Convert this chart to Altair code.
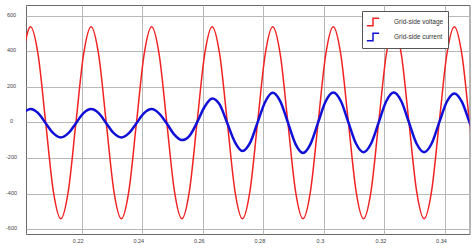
import altair as alt
import pandas as pd

# time samples (s), every 1/8 period of the 50 Hz grid
time_s = [0.2006, 0.2031, 0.2056, 0.2081, 0.2106, 0.2131, 0.2156, 0.2181,
          0.2206, 0.2231, 0.2256, 0.2281, 0.2306, 0.2331, 0.2356, 0.2381,
          0.2406, 0.2431, 0.2456, 0.2481, 0.2506, 0.2531, 0.2556, 0.2581,
          0.2606, 0.2631, 0.2656, 0.2681, 0.2706, 0.2731, 0.2756, 0.2781,
          0.2806, 0.2831, 0.2856, 0.2881, 0.2906, 0.2931, 0.2956, 0.2981,
          0.3006, 0.3031, 0.3056, 0.3081, 0.3106, 0.3131, 0.3156, 0.3181,
          0.3206, 0.3231, 0.3256, 0.3281, 0.3306, 0.3331, 0.3356, 0.3381,
          0.3406, 0.3431, 0.3456, 0.3481, 0.3506]

grid_voltage = [380, 537, 380, 0, -382, -540, -382, 0,
                380, 537, 380, 0, -382, -540, -382, 0,
                380, 537, 380, 0, -382, -540, -382, 0,
                380, 537, 380, 0, -382, -540, -382, 0,
                380, 537, 380, 0, -382, -540, -382, 0,
                380, 537, 380, 0, -382, -540, -382, 0,
                380, 537, 380, 0, -382, -540, -382, 0,
                380, 537, 380, 0, -382]

grid_current = [53, 75, 52, -4, -60, -84, -60, -4,
                52, 75, 52, -4, -60, -84, -60, -4,
                52, 75, 50, -6, -68, -99, -75, 0,
                88, 135, 100, -5, -110, -160, -115, 0,
                115, 166, 118, 0, -120, -171, -120, 0,
                119, 168, 119, 0, -118, -167, -118, 0,
                119, 168, 119, 0, -118, -167, -118, 0,
                116, 163, 115, 0, -115]

x_ticks = [0.22, 0.24, 0.26, 0.28, 0.30, 0.32, 0.34]
y_ticks = [-600, -400, -200, 0, 200, 400, 600]
series_names = ["Grid-side voltage", "Grid-side current"]
series_colors = ["#f22222", "#1010d8"]

df = pd.DataFrame({"t": time_s, series_names[0]: grid_voltage,
                   series_names[1]: grid_current})

font = "Liberation Sans"

color_scale = alt.Scale(domain=series_names, range=series_colors)
legend = alt.Legend(
    title=None, orient="none", legendX=336, legendY=6,
    symbolType="M-1,0.6H0V-0.6H1", symbolSize=150, symbolStrokeWidth=1.5,
    symbolFillColor="transparent",
    fillColor="white", strokeColor="#555555", padding=4,
    labelFontSize=6.5, labelColor="#333333", labelFont=font,
    labelOffset=14, rowPadding=1,
)

x_enc = alt.X(
    "t:Q",
    scale=alt.Scale(domain=[0.2016, 0.3481], nice=False, zero=False),
    axis=alt.Axis(values=x_ticks, title=None, ticks=False, tickSize=0,
                  labelPadding=4, labelOffset=-4, format="~g",
                  labelFontSize=5.5, labelColor="#444444", labelFont=font),
)
y_enc = alt.Y(
    "value:Q",
    scale=alt.Scale(domain=[-626, 659], nice=False, zero=False),
    axis=alt.Axis(values=y_ticks, title=None, ticks=False, tickSize=0,
                  labelPadding=15, labelAlign="center", labelOffset=-1.5,
                  labelExpr="'' + datum.value",
                  labelFontSize=5.5, labelColor="#444444", labelFont=font),
)
color_enc = alt.Color("series:N", scale=color_scale, legend=legend,
                      sort=series_names)

base = alt.Chart(df).transform_fold(series_names, as_=["series", "value"])

voltage = base.transform_filter(
    alt.datum.series == series_names[0]
).mark_line(strokeWidth=1.5, interpolate="monotone", clip=True).encode(
    x=x_enc, y=y_enc, color=color_enc,
)
current = base.transform_filter(
    alt.datum.series == series_names[1]
).mark_line(strokeWidth=2.5, interpolate="monotone", clip=True).encode(
    x=x_enc, y=y_enc, color=color_enc,
)

chart = alt.layer(voltage, current).properties(
    width=443.5, height=229,
    autosize=alt.AutoSizeParams(type="none"),
    padding={"left": 26, "top": 5, "right": 4.5, "bottom": 14},
    background="white",
).configure_view(
    stroke="#6a6a6a", strokeWidth=1,
).configure_axis(
    domain=False, gridColor="#b8b8b8", gridWidth=1, gridOpacity=1,
)

chart.save("out.html", embed_options={"renderer": "svg", "actions": False})
